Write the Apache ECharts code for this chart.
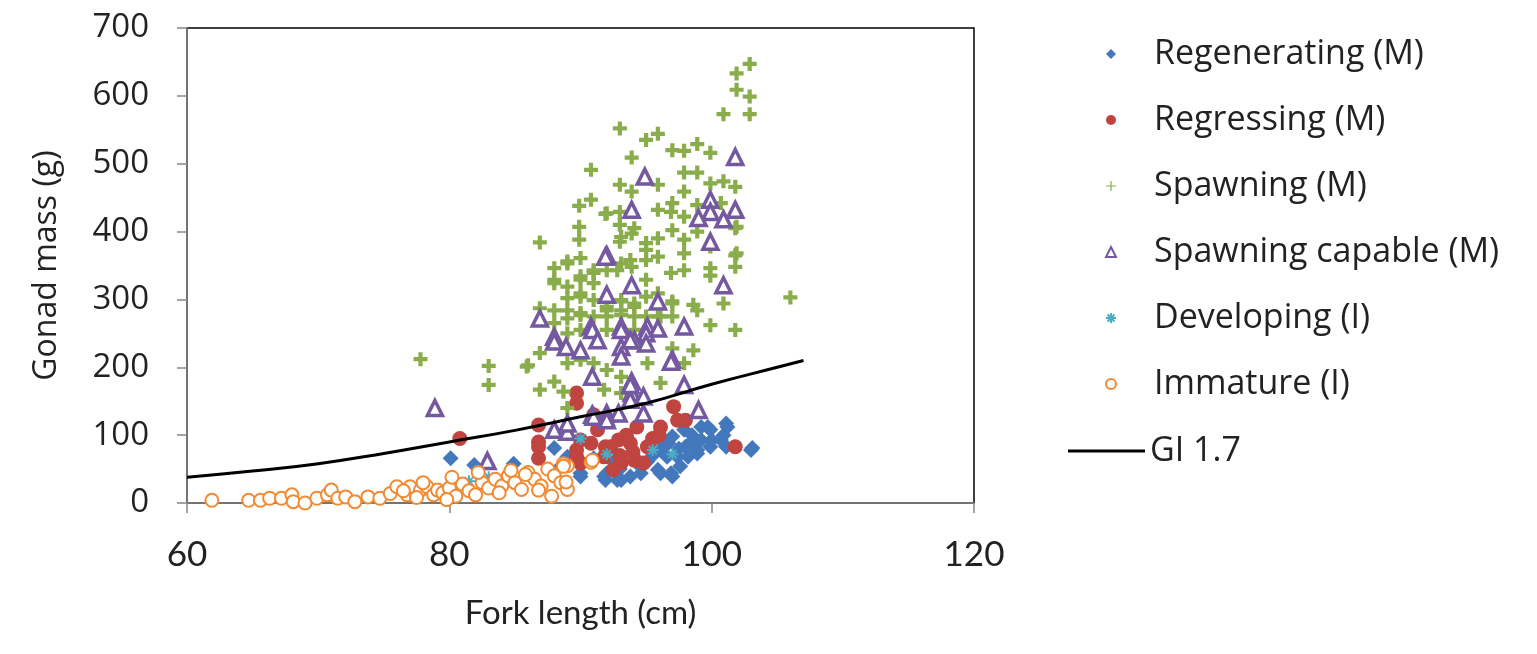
<!DOCTYPE html>
<html>
<head>
<meta charset="utf-8">
<script src="https://cdn.jsdelivr.net/npm/echarts@6/dist/echarts.min.js"></script>
<style>
html, body { margin: 0; padding: 0; background: #fff; }
#chart { width: 1537px; height: 654px; }
</style>
</head>
<body>
<div id="chart"></div>
<script>
// values: [fork length (cm), gonad mass (g)]
var regenerating = [
  [80.1,66],[81.9,56],[84.9,58],[88,81],[88.5,54],[91,66],[90,44],[92,44],[101.1,117],[99.9,108],
  [99.2,112],[100.9,100],[103.1,81],[101.1,83],[100,93],[99.2,93],[98.9,73],[98,83],[97.9,108],[97,98],
  [97.4,68],[96.6,68],[96.9,44],[95.9,49],[95.1,61],[95.3,83],[94.6,44],[93.8,39],[92.8,34],[91.9,34],
  [94.1,68],[96.1,78],[96.7,88],[98.2,68],[97.6,54],[98.6,93],[99.7,112],[99.9,83],[89,68],[90,39],
  [91.8,39],[93.1,34],[96.1,44],[97,39],[101.2,112],[100.7,93],[98.9,78],[103,78],[93,50],[94.5,55],
  [92.5,60],[95.5,70],[97.5,80],[98.5,100],[96,95]
];
var regressing = [
  [80.8,95],[86.8,115],[86.8,90],[86.8,83],[86.8,66],[89.7,162],[89.7,147],[90,93],[89.7,68],[91.9,83],
  [89.7,78],[90.8,88],[92.9,93],[93.8,88],[94.3,112],[93.1,59],[94.1,63],[94.8,59],[96.1,112],[97.1,142],
  [97.4,122],[98,122],[101.8,83],[91.8,68],[92.5,49],[95.1,83],[91.3,108],[92.3,83],[90,59],[93.5,100],
  [94,75],[95.5,95],[92,120],[91,130],[93,70],[96,100]
];
var spawning = [
  [77.8,212],[83,202],[83,174],[86,203],[102.9,647],[101.9,633],[101.9,609],[102.9,599],[100.9,573],[102.9,573],
  [93,552],[95,535],[95.9,544],[97,520],[97.9,519],[98.9,529],[99.9,516],[93.9,509],[90.8,491],[97.9,487],
  [98.9,487],[99.9,471],[100.9,474],[101.8,466],[93,469],[93.9,459],[95.9,469],[97.9,459],[89.9,438],[90.8,447],
  [91.9,426],[93,429],[95.9,432],[97,442],[97.9,422],[86.9,384],[89.9,407],[89.9,388],[93,410],[93,385],
  [93.9,397],[95,373],[95.9,390],[97,402],[97.9,388],[92,427],[93.1,392],[94.1,405],[95,383],[98.9,400],
  [98.9,439],[100.7,442],[101.8,405],[99.9,378],[101.8,365],[101.8,348],[99.9,346],[99.9,335],[106,303],[100.9,294],
  [101.8,255],[99.9,262],[98.9,284],[97,294],[95.9,309],[95,329],[93.9,348],[93.1,353],[92,343],[91,339],
  [90,361],[90,329],[89,353],[88,346],[88,324],[89,319],[90,309],[91,299],[93.1,297],[94.1,294],
  [95,304],[95.9,275],[97,275],[86.9,287],[88,284],[88,265],[89,284],[90,280],[91,275],[92,284],
  [93.1,284],[94.1,275],[89,250],[90,255],[92,255],[94.1,255],[85.9,201],[86.9,221],[86.9,167],[88,179],
  [89,206],[90,211],[91,206],[92,196],[93.1,186],[95.1,206],[96.1,177],[97,228],[97.9,206],[98.6,225],
  [93.1,162],[91.8,167],[89,356],[88,329],[90,334],[91,324],[89,302],[90,304],[92,289],[93.1,299],
  [89,272],[90,277],[92,275],[93.1,277],[94.1,289],[95,275],[96.1,275],[97,297],[98.6,292],[97.9,343],
  [96.9,339],[95,358],[93.8,358],[92.8,343],[91,343],[95.9,363],[97.9,368],[101.9,368],[96.9,429],[101.9,407],
  [88.7,164],[89,140]
];
var spawningCapable = [
  [78.9,140],[82.9,62],[101.8,510],[94.9,481],[99.9,447],[101.8,432],[99.9,429],[99,420],[100.9,418],[99.9,385],
  [93.9,432],[100.9,321],[97.9,260],[95.9,297],[93.9,321],[92,365],[92,307],[86.9,272],[88,245],[90.8,260],
  [93.1,260],[95.1,260],[91.9,363],[88,238],[88.9,230],[90,225],[90.9,255],[91.3,240],[93.1,255],[93.1,230],
  [94.1,240],[95,250],[95.9,257],[97,211],[90.9,186],[93.9,179],[93.9,162],[97.9,174],[93.1,216],[88,108],
  [89,105],[90.9,130],[92,132],[96.9,208],[93.8,240],[95,235],[91.9,127],[92.9,132],[94.8,157],[99,137],
  [93.8,152],[91,127],[92,122],[89,117],[94.8,132],[93.8,174]
];
var developing = [
  [80.5,30],[81.5,32],[83,38],[86,40],[88.5,52],[92,72],[95.5,78],[97,72],[90,95],[84,30]
];
var immature = [
  [61.9,4],[64.7,4],[65.6,4],[66.3,7],[67.2,7],[68,12],[68.1,2],[69,0],[69.9,7],[70.7,12],
  [71,19],[71.5,7],[72.1,9],[72.8,2],[73.8,9],[74.7,7],[75.5,14],[76,24],[76.8,12],[77,24],
  [77.8,19],[78.3,24],[78.8,12],[79.1,19],[79.5,15],[80,22],[80.5,10],[81,28],[81.5,18],[82,12],
  [82.5,30],[83,22],[83.5,35],[84,25],[84.5,40],[85,30],[85.5,20],[86,45],[86.5,35],[87,25],
  [87.5,50],[88,40],[88.5,30],[89,55],[89,20],[86.8,19],[88.7,58],[90.8,60],[90.9,63],[88.7,54],
  [88.9,31],[77.5,8],[79.8,5],[80.2,38],[82.2,45],[84.7,48],[83.8,15],[85.8,42],[87.8,10],[76.5,18],
  [78,30]
];
// GI 1.7 curve
var giX = [60, 65, 70, 75, 80, 85, 90, 95, 100, 105, 107];
var giY = [38, 47, 58, 73, 90, 107, 127, 147, 175, 200, 210];

var plusPath = 'path://M3.5,0h3v3.5h3.5v3h-3.5v3.5h-3v-3.5h-3.5v-3h3.5z';
var plusThin = 'path://M4.4,0h1.2v4.4h4.4v1.2h-4.4v4.4h-1.2v-4.4h-4.4v-1.2h4.4z';
var starPath = 'path://M5,0L5,10M0,5L10,5M1.5,1.5L8.5,8.5M8.5,1.5L1.5,8.5';

var chart = echarts.init(document.getElementById('chart'));
var font = '"Open Sans", Lato, sans-serif';

chart.setOption({
  animation: false,
  backgroundColor: '#fff',
  grid: {
    left: 187, right: 563, top: 28, bottom: 151,
    show: true, borderColor: '#000', borderWidth: 1.5
  },
  legend: [{
    orient: 'vertical',
    left: 1100, top: 29,
    itemWidth: 10, itemHeight: 10, itemGap: 26,
    data: [
      'Regenerating (M)', 'Regressing (M)',
      { name: 'Spawning (M)', icon: plusThin },
      'Spawning capable (M)', 'Developing (I)', 'Immature (I)'
    ],
    textStyle: { fontFamily: font, fontSize: 34, color: '#222', lineHeight: 40, padding: [0, 0, 0, 33] }
  }, {
    orient: 'vertical',
    left: 1063, top: 426,
    itemWidth: 77, itemHeight: 3,
    data: [{ name: 'GI 1.7', icon: 'rect' }],
    textStyle: { fontFamily: font, fontSize: 34, color: '#222', lineHeight: 40 }
  }],
  xAxis: {
    type: 'value', min: 60, max: 120, interval: 20,
    name: 'Fork length (cm)', nameLocation: 'middle', nameGap: 94,
    nameTextStyle: { fontFamily: 'Lato, sans-serif', fontSize: 33, color: '#222' },
    axisLine: { lineStyle: { color: '#868686', width: 1.5 } },
    axisTick: { show: true, length: 10, lineStyle: { color: '#868686', width: 1.5 } },
    axisLabel: { fontFamily: 'Lato, sans-serif', fontSize: 35, color: '#222', margin: 34 },
    splitLine: { show: false }
  },
  yAxis: {
    type: 'value', min: 0, max: 700, interval: 100,
    name: 'Gonad mass (g)', nameLocation: 'middle', nameGap: 124,
    nameTextStyle: { fontFamily: font, fontSize: 32, color: '#222' },
    axisLine: { show: true, lineStyle: { color: '#868686', width: 1.5 } },
    axisTick: { show: true, length: 10, lineStyle: { color: '#868686', width: 1.5 } },
    axisLabel: { fontFamily: '"Open Sans", sans-serif', fontSize: 33, color: '#222', margin: 38 },
    splitLine: { show: false }
  },
  series: [{
    name: 'Regenerating (M)', type: 'scatter', data: regenerating,
    symbol: 'diamond', symbolSize: 16, symbolKeepAspect: true,
    itemStyle: { color: '#4478bd', opacity: 1 }
  }, {
    name: 'Regressing (M)', type: 'scatter', data: regressing,
    symbol: 'circle', symbolSize: 15,
    itemStyle: { color: '#c0443f', opacity: 1 }
  }, {
    name: 'Spawning (M)', type: 'scatter', data: spawning,
    symbol: plusPath, symbolSize: 14,
    itemStyle: { color: '#8aad4c', opacity: 1 }
  }, {
    name: 'Spawning capable (M)', type: 'scatter', data: spawningCapable,
    symbol: 'triangle', symbolSize: 15,
    itemStyle: { color: '#fff', borderColor: '#7559a0', borderWidth: 3.5, opacity: 1 }
  }, {
    name: 'Developing (I)', type: 'scatter', data: developing,
    symbol: starPath, symbolSize: 12,
    itemStyle: { color: 'transparent', borderColor: '#4bacc6', borderWidth: 2, opacity: 1 }
  }, {
    name: 'Immature (I)', type: 'scatter', data: immature,
    symbol: 'emptyCircle', symbolSize: 13,
    itemStyle: { color: '#f28a33', borderColor: '#f28a33', borderWidth: 3, opacity: 1 }
  }, {
    name: 'GI 1.7', type: 'line', data: giX.map(function (x, i) { return [x, giY[i]]; }),
    symbol: 'none', smooth: true,
    lineStyle: { color: '#000', width: 3 },
    itemStyle: { color: '#000' }
  }]
});
</script>
</body>
</html>
